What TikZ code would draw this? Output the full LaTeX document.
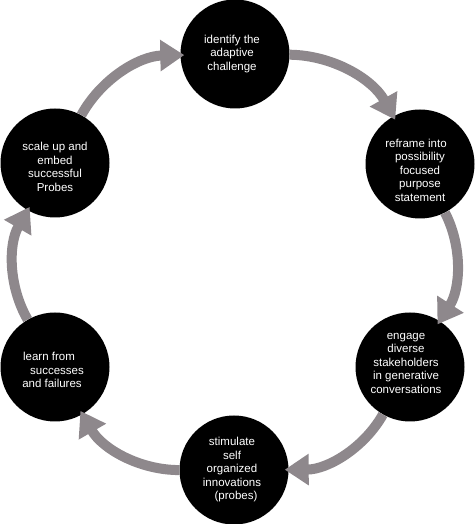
\documentclass[tikz,border=0pt]{standalone}
\usepackage{fontspec}
\setmainfont{Liberation Sans}
\usetikzlibrary{arrows.meta}
\definecolor{arrowgray}{HTML}{8E888C}
\begin{document}
\begin{tikzpicture}[x=1pt,y=1pt,
  stage/.style={circle,fill=black,minimum size=109pt,inner sep=0pt},
  stagetext/.style={text=white,align=center,inner sep=0pt,font=\fontsize{11.5}{13.5}\selectfont},
  flow/.style={draw=arrowgray,line width=10pt,-{Triangle[length=24pt,width=30pt]},bend left=30,looseness=0.91,shorten >=-4pt}]
\useasboundingbox (0,0) rectangle (474,524);
\node[stage] (t)  at (235,470) {};
\node[stage] (tr) at (420,360) {};
\node[stage] (br) at (410,157) {};
\node[stage] (b)  at (234,54) {};
\node[stage] (bl) at (55,157) {};
\node[stage] (tl) at (55,361) {};
\draw[flow] (t) to (tr);
\draw[flow] (tr) to (br);
\draw[flow] (br) to (b);
\draw[flow] (b) to (bl);
\draw[flow] (bl) to (tl);
\draw[flow] (tl) to (t);
\node[stagetext,xshift=-3pt] (tt) at (t) {identify the\\adaptive\\challenge};
\node[stagetext,yshift=-6pt] (trt) at (tr) {reframe into\hspace*{8pt}\\possibility\\focused\\purpose\\statement};
\node[stagetext,xshift=-4pt,yshift=4pt] (brt) at (br) {engage\\diverse\\stakeholders\\in generative\\conversations};
\node[stagetext,xshift=-2pt] (bt) at (b) {stimulate\\self\\organized\\innovations\\\hspace*{8pt}(probes)};
\node[stagetext,xshift=-3pt,yshift=-3pt] (blt) at (bl) {learn from\hspace*{6pt}\\\hspace*{10pt}successes\\and failures};
\node[stagetext,yshift=-4pt] (tlt) at (tl) {scale up and\\embed\\successful\\Probes};
\end{tikzpicture}
\end{document}
